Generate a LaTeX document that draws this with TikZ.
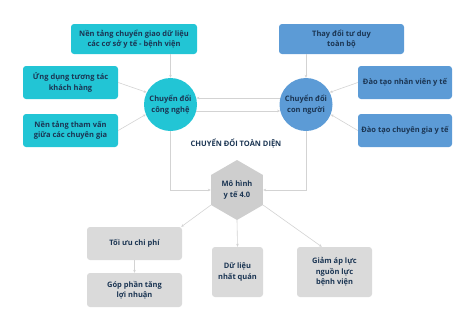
\documentclass[tikz,border=0pt]{standalone}
\usepackage{fontspec}
\setmainfont{Open Sans}[BoldFont=* Bold]
\usetikzlibrary{arrows.meta,shapes.geometric}
\definecolor{techcyan}{HTML}{22C5D5}
\definecolor{humanblue}{HTML}{5C9BD6}
\definecolor{hexgray}{HTML}{CECECE}
\definecolor{boxgray}{HTML}{DADADA}
\definecolor{inkblue}{HTML}{1B3553}
\definecolor{wiregray}{HTML}{D3D3D3}
\begin{document}
\begin{tikzpicture}[x=1pt, y=-1pt, >={Stealth[length=3pt,width=2.6pt]},
  font=\fontsize{7.5}{10.5}\selectfont\bfseries, text=inkblue,
  card/.style={rounded corners=3pt, inner sep=0pt, align=center},
  techcard/.style={card, fill=techcyan},
  humancard/.style={card, fill=humanblue},
  resultcard/.style={card, fill=boxgray},
  hub/.style={circle, minimum size=53pt, inner sep=0pt, align=center},
  wire/.style={draw=wiregray, line width=0.6pt}]
\useasboundingbox (0,0) rectangle (474,327);
% technology side
\node[techcard, minimum width=126pt, minimum height=30pt] (platform) at (134,39)
  {Nền tảng chuyển giao dữ liệu\\các cơ sở y tế - bệnh viện};
\node[techcard, minimum width=95pt, minimum height=33pt] (app) at (70.5,82.5)
  {Ứng dụng tương tác\\khách hàng};
\node[techcard, minimum width=95pt, minimum height=33pt] (consult) at (70.5,130.5)
  {Nền tảng tham vấn\\giữa các chuyên gia};
\node[hub, fill=techcyan] (tech) at (170.5,104.5) {Chuyển đổi\\công nghệ};
% people side
\node[humancard, minimum width=125pt, minimum height=30pt] (mindset) at (341.5,39)
  {Thay đổi tư duy\\toàn bộ};
\node[humancard, minimum width=94pt, minimum height=33pt] (staff) at (405,82.5)
  {Đào tạo nhân viên y tế};
\node[humancard, minimum width=94pt, minimum height=33pt] (expert) at (405,130.5)
  {Đào tạo chuyên gia y tế};
\node[hub, fill=humanblue] (human) at (306,104.5) {Chuyển đổi\\con người};
\node (title) at (236,143) {CHUYỂN ĐỔI TOÀN DIỆN};
% 4.0 model and results
\node[regular polygon, regular polygon sides=6, shape border rotate=30,
  minimum size=60pt, inner sep=0pt, fill=hexgray, align=center] (model) at (237,190)
  {Mô hình\\y tế 4.0};
\node[resultcard, minimum width=95pt, minimum height=33pt] (cost) at (134.5,243.5)
  {Tối ưu chi phí};
\node[resultcard, minimum width=95pt, minimum height=34pt] (profit) at (134.5,290)
  {Góp phần tăng\\lợi nhuận};
\node[resultcard, minimum width=51pt, minimum height=50pt] (data) at (237.5,272)
  {Dữ liệu\\nhất quán};
\node[resultcard, minimum width=75pt, minimum height=50pt] (relief) at (334.5,272)
  {Giảm áp lực\\nguồn lực\\bệnh viện};
% connectors
\draw[wire,->] (tech.north |- platform.south) -- (tech.north);
\draw[wire,->] (app.east) -- (tech.153);
\draw[wire,->] (consult.east) -- (tech.-158);
\draw[wire,->] (human.north |- mindset.south) -- (human.north);
\draw[wire,->] (staff.west) -- (human.27);
\draw[wire,->] (expert.west) -- (human.-22);
\draw[wire,->] (human.166) -- (tech.14);
\draw[wire,->] (tech.-14) -- (human.-166);
\draw[wire,->] (tech.south) |- (model.west);
\draw[wire,->] (human.south) |- (model.east);
\draw[wire,->] (model.210) -- ([xshift=-1]cost.north east);
\draw[wire,->] (model.south) -- (data.north);
\draw[wire,->] (model.-30) -- ([xshift=25]relief.north west);
\draw[wire,->] (cost.south) -- (profit.north);
\end{tikzpicture}
\end{document}
